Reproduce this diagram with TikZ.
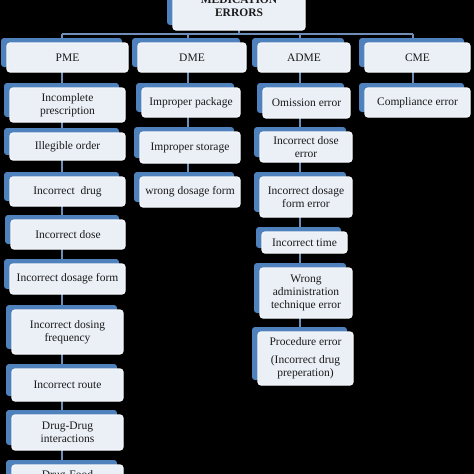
\documentclass[tikz,border=0pt]{standalone}
\usepackage{fontspec}
\setmainfont{Liberation Serif}
\definecolor{backblue}{HTML}{4F81BD}
\definecolor{frontfill}{HTML}{EBF0F7}
\definecolor{frontedge}{HTML}{F4F7FB}
\definecolor{connblue}{HTML}{6F8FB8}
\definecolor{txt}{HTML}{1A1A1A}
\pgfdeclarelayer{back}
\pgfdeclarelayer{lines}
\pgfsetlayers{back,lines,main}
\tikzset{
  frontbox/.style={draw=frontedge, line width=1.2pt, fill=frontfill, rounded corners=3pt,
    inner sep=0pt, outer sep=0pt, align=center, text=txt,
    font=\fontsize{11.5}{13}\selectfont},
  conn/.style={draw=connblue, line width=1.3pt},
}
\newcommand\errbox[6]{%
  \fill[backblue, rounded corners=3pt] ({#2-6},{#3-5}) rectangle ({#4-6},{#5-5});
  \node[frontbox, minimum width={(#4-#2)*1pt}, minimum height={(#5-#3)*1pt}] (#1) at ({(#2+#4)/2},{(#3+#5)/2}) {#6};
}
\begin{document}
\begin{tikzpicture}[x=1pt,y=-1pt]
\useasboundingbox (0,0) rectangle (474,474);
\begin{pgfonlayer}{back}
\fill[black] (0,0) rectangle (474,474);
\end{pgfonlayer}

\errbox{top}{173}{-17}{305}{30}{\bfseries MEDICATION\\\bfseries ERRORS}

\errbox{pme}{7}{43}{128}{72}{PME}
\errbox{dme}{138}{43}{246}{72}{DME}
\errbox{adme}{258}{43}{350}{72}{ADME}
\errbox{cme}{365}{43}{470}{72}{CME}

\errbox{p1}{10}{88}{125}{122}{Incomplete\\prescription}
\errbox{p2}{10}{133}{125}{160}{Illegible order}
\errbox{p3}{10}{177}{125}{206}{Incorrect\ \ drug}
\errbox{p4}{11}{220}{125}{249}{Incorrect dose}
\errbox{p5}{10}{264}{125}{294}{Incorrect dosage form}
\errbox{p6}{12}{310}{123}{354}{Incorrect dosing\\frequency}
\errbox{p7}{12}{369}{123}{401}{Incorrect route}
\errbox{p8}{12}{415}{123}{450}{Drug-Drug\\interactions}
\errbox{p9}{12}{465}{123}{487}{Drug-Food}

\errbox{d1}{142}{88}{240}{117}{Improper package}
\errbox{d2}{140}{132}{240}{163}{Improper storage}
\errbox{d3}{140}{177}{240}{207}{wrong dosage form}

\errbox{a1}{263}{88}{350}{118}{Omission error}
\errbox{a2}{260}{132}{352}{162}{Incorrect dose\\error}
\errbox{a3}{260}{177}{352}{217}{Incorrect dosage\\form error}
\errbox{a4}{262}{232}{347}{253}{Incorrect time}
\errbox{a5}{260}{268}{352}{318}{Wrong\\administration\\technique error}
\errbox{a6}{258}{332}{353}{385}{Procedure error\\[5pt](Incorrect drug\\preperation)}

\errbox{c1}{365}{88}{470}{117}{Compliance error}

\coordinate (cA) at (62,34);
\coordinate (cB) at (188,34);
\coordinate (cC) at (300,34);
\coordinate (cD) at (413,34);

\begin{pgfonlayer}{lines}
\draw[conn] (top.south) -- (top.south |- cA);
\draw[conn] (cA) -- (cD);
\draw[conn] (cA) -- (pme.north -| cA);
\draw[conn] (cB) -- (dme.north -| cB);
\draw[conn] (cC) -- (adme.north -| cC);
\draw[conn] (cD) -- (cme.north -| cD);
\foreach \a/\b in {pme/p1,p1/p2,p2/p3,p3/p4,p4/p5,p5/p6,p6/p7,p7/p8,p8/p9}
  \draw[conn] (\a.south -| cA) -- (\b.north -| cA);
\foreach \a/\b in {dme/d1,d1/d2,d2/d3}
  \draw[conn] (\a.south -| cB) -- (\b.north -| cB);
\foreach \a/\b in {adme/a1,a1/a2,a2/a3,a3/a4,a4/a5,a5/a6}
  \draw[conn] (\a.south -| cC) -- (\b.north -| cC);
\draw[conn] (cme.south -| cD) -- (c1.north -| cD);
\end{pgfonlayer}
\end{tikzpicture}
\end{document}
